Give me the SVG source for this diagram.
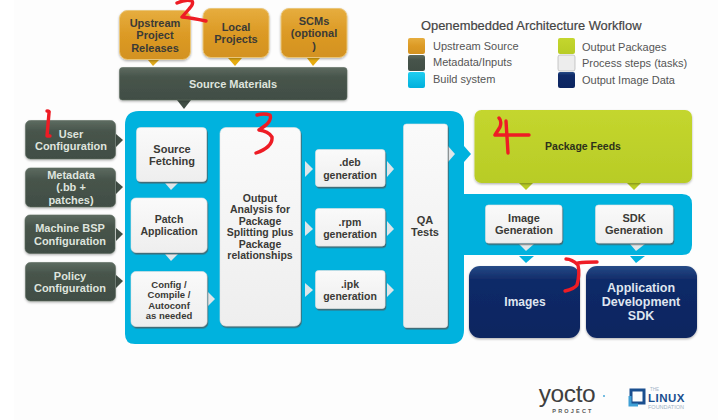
<svg xmlns="http://www.w3.org/2000/svg" width="718" height="420" viewBox="0 0 718 420">
<style>
text{font-family:"Liberation Sans",Arial,sans-serif;text-anchor:middle;font-weight:700}
.s{font-size:11px;fill:#3a3a36}
.m{font-size:11px;fill:#dfe4de}
.w{font-size:10.5px;fill:#3a3a36}
.c{font-size:9.500px;fill:#3a3a36}
.g{font-size:11px;fill:#3a3a36}
.l{font-size:11px;fill:#555;font-weight:400;text-anchor:start}
.a-o{fill:url(#org);stroke:#e9c67a;stroke-width:1}
.a-d{fill:url(#drk);stroke:#5d6b60;stroke-width:.6}
.a-w{fill:url(#wht);stroke:#e2e2e2;stroke-width:.6}
.a-g{fill:url(#grn)}
.a-n{fill:url(#nav)}
.r{fill:none;stroke:#ee1c25;stroke-width:3.4;stroke-linecap:round;stroke-linejoin:round}
.t{fill:#dfe6e9}
</style>
<defs>
<linearGradient id="org" x1="0" y1="0" x2="0" y2="1"><stop offset="0" stop-color="#e6ad3e"/><stop offset=".5" stop-color="#dc9a25"/><stop offset="1" stop-color="#d39220"/></linearGradient>
<linearGradient id="drk" x1="0" y1="0" x2="0" y2="1"><stop offset="0" stop-color="#5d6b60"/><stop offset=".3" stop-color="#47544b"/><stop offset="1" stop-color="#414e45"/></linearGradient>
<linearGradient id="wht" x1="0" y1="0" x2="0" y2="1"><stop offset="0" stop-color="#fafafa"/><stop offset="1" stop-color="#eeeeee"/></linearGradient>
<linearGradient id="grn" x1="0" y1="0" x2="0" y2="1"><stop offset="0" stop-color="#c4d62e"/><stop offset="1" stop-color="#b8cc26"/></linearGradient>
<linearGradient id="nav" x1="0" y1="0" x2="0" y2="1"><stop offset="0" stop-color="#264a86"/><stop offset=".2" stop-color="#0f2a68"/><stop offset="1" stop-color="#0c2560"/></linearGradient>
<linearGradient id="cy" x1="0" y1="0" x2="0" y2="1"><stop offset="0" stop-color="#1fcdf0"/><stop offset="1" stop-color="#00b0dc"/></linearGradient>
<filter id="sh" x="-10%" y="-10%" width="120%" height="125%"><feDropShadow dx="0" dy="1.2" stdDeviation="1.2" flood-color="#000" flood-opacity=".3"/></filter>
<filter id="ed" x="-10%" y="-10%" width="120%" height="120%"><feDropShadow dx=".9" dy="1.6" stdDeviation=".5" flood-color="#555" flood-opacity=".8"/></filter>
</defs>
<rect width="718" height="420" fill="#fff"/>
<rect x="14" y="0" width="704" height="420" fill="#fdfdfd"/>
<g id="build-system"><path d="M139 111H450Q464 111 464 125V194H682Q692 194 692 204V245Q692 255 682 255H464V330Q464 344 450 344H135Q125 344 125 334V125Q125 111 139 111Z" fill="#00b2de"/></g>
<g id="connectors">
<polygon points="148,60 159,60 153,66" fill="#e0aa1c"/>
<polygon points="228,58 242,58 235,66" fill="#e6ac10"/>
<polygon points="307,58 320,58 313,66" fill="#e6ac10"/>
<polygon points="177,100 191,100 184,109" fill="#414e45"/>
<polygon points="116,134 123,140 116,147" fill="#414e45"/>
<polygon points="116,181 123,187 116,194" fill="#414e45"/>
<polygon points="116,228 123,234 116,241" fill="#414e45"/>
<polygon points="116,275 123,281 116,288" fill="#414e45"/>
<polygon class="t" points="165,183 178,183 171,190"/>
<polygon class="t" points="165,254 178,254 171,261"/>
<polygon class="t" points="208,292 215,299 208,306"/>
<polygon class="t" points="305,161 313,169 305,177"/>
<polygon class="t" points="305,221 313,229 305,236"/>
<polygon class="t" points="305,283 313,290 305,297"/>
<polygon class="t" points="387,161 394,169 387,177"/>
<polygon class="t" points="387,221 394,229 387,236"/>
<polygon class="t" points="387,283 394,290 387,297"/>
<polygon class="t" points="448,146 455,154 448,162"/>
<polygon class="t" points="519,244 534,244 526,251"/>
<polygon class="t" points="630,244 645,244 636,251"/>
<polygon points="464,146 471,154 464,162" fill="#00b2de"/>
<polygon points="519,183 533,183 526,190" fill="#b8cc26"/>
<polygon points="627,183 641,183 634,190" fill="#b8cc26"/>
<polygon points="519,256 534,256 526,263" fill="#00b2de"/>
<polygon points="630,256 645,256 636,263" fill="#00b2de"/>
</g>
<g id="upstream"><rect class="a-o" x="119.500" y="10.500" width="71" height="49" rx="8" filter="url(#sh)"/><text class="s" x="155" y="27">Upstream</text><text class="s" x="155" y="39">Project</text><text class="s" x="155" y="52">Releases</text></g>
<g id="local"><rect class="a-o" x="203" y="8.500" width="66" height="49" rx="8" filter="url(#sh)"/><text class="s" x="236" y="31">Local</text><text class="s" x="236" y="43">Projects</text></g>
<g id="scms"><rect class="a-o" x="281" y="8.500" width="66" height="49" rx="8" filter="url(#sh)"/><text class="s" x="314" y="25">SCMs</text><text class="s" x="314" y="37">(optional</text><text class="s" x="314" y="50">)</text></g>
<g id="source-materials"><rect class="a-d" x="119.500" y="67.500" width="227.500" height="32.500" rx="3" filter="url(#sh)"/><text class="m" x="233" y="88">Source Materials</text></g>
<g id="user-config"><rect class="a-d" x="25.500" y="120.500" width="90" height="38.500" rx="5" filter="url(#sh)"/><text class="m" x="71" y="138">User</text><text class="m" x="71" y="150">Configuration</text></g>
<g id="metadata"><rect class="a-d" x="25.500" y="168" width="90" height="39" rx="5" filter="url(#sh)"/><text class="m" x="71" y="179">Metadata</text><text class="m" x="71" y="191">(.bb +</text><text class="m" x="71" y="204">patches)</text></g>
<g id="machine"><rect class="a-d" x="25" y="215" width="90" height="38.500" rx="5" filter="url(#sh)"/><text class="m" x="70" y="232">Machine BSP</text><text class="m" x="70" y="245">Configuration</text></g>
<g id="policy"><rect class="a-d" x="25.500" y="262.500" width="90" height="38.500" rx="5" filter="url(#sh)"/><text class="m" x="70" y="280">Policy</text><text class="m" x="70" y="292">Configuration</text></g>
<g id="source-fetching"><rect class="a-w" x="136.500" y="127.500" width="70" height="54" rx="4" filter="url(#ed)"/><text class="s" x="172" y="153">Source</text><text class="s" x="172" y="165">Fetching</text></g>
<g id="patch"><rect class="a-w" x="131" y="198" width="76" height="54.500" rx="5" filter="url(#ed)"/><text class="w" x="169" y="223">Patch</text><text class="w" x="169" y="235">Application</text></g>
<g id="config"><rect class="a-w" x="131" y="271.500" width="76" height="55" rx="5" filter="url(#ed)"/><text class="c" x="169" y="288">Config /</text><text class="c" x="169" y="298">Compile /</text><text class="c" x="169" y="308.500">Autoconf</text><text class="c" x="169" y="318.500">as needed</text></g>
<g id="output-analysis"><rect class="a-w" x="220" y="127.500" width="80.500" height="198.500" rx="6" filter="url(#ed)"/><text class="w" x="260" y="202">Output</text><text class="w" x="260" y="213">Analysis for</text><text class="w" x="260" y="225">Package</text><text class="w" x="260" y="236">Splitting plus</text><text class="w" x="260" y="248">Package</text><text class="w" x="260" y="259">relationships</text></g>
<g id="deb"><rect class="a-w" x="315.500" y="149.500" width="69.500" height="37" rx="3" filter="url(#ed)"/><text class="w" x="350" y="166">.deb</text><text class="w" x="350" y="179">generation</text></g>
<g id="rpm"><rect class="a-w" x="315.500" y="208.500" width="69.500" height="37.500" rx="3" filter="url(#ed)"/><text class="w" x="350" y="226">.rpm</text><text class="w" x="350" y="238">generation</text></g>
<g id="ipk"><rect class="a-w" x="315.500" y="270.500" width="69.500" height="38" rx="3" filter="url(#ed)"/><text class="w" x="350" y="288">.ipk</text><text class="w" x="350" y="300">generation</text></g>
<g id="qa"><rect class="a-w" x="403.500" y="124" width="44" height="203.500" rx="3" filter="url(#ed)"/><text class="s" x="425" y="224">QA</text><text class="s" x="425" y="236">Tests</text></g>
<g id="package-feeds"><rect class="a-g" x="474.500" y="110" width="217.500" height="73" rx="7" filter="url(#sh)"/><text x="583" y="150" style="font-size:10.500px;fill:#2d321a">Package Feeds</text></g>
<g id="image-gen"><rect class="a-w" x="485.500" y="205" width="76.500" height="38" rx="3" filter="url(#ed)"/><text class="g" x="524" y="222">Image</text><text class="g" x="524" y="234">Generation</text></g>
<g id="sdk-gen"><rect class="a-w" x="595.500" y="205" width="77.500" height="38" rx="3" filter="url(#ed)"/><text class="g" x="634" y="222">SDK</text><text class="g" x="634" y="234">Generation</text></g>
<g id="images"><rect class="a-n" x="469" y="266" width="111" height="72" rx="11" filter="url(#sh)"/><text x="525" y="306" style="font-size:12px;fill:#dfe5ef">Images</text></g>
<g id="app-sdk"><rect class="a-n" x="586" y="266" width="111" height="72" rx="11" filter="url(#sh)"/><text x="641" y="292" style="font-size:12.500px;fill:#dfe5ef">Application</text><text x="641" y="306" style="font-size:12.500px;fill:#dfe5ef">Development</text><text x="641" y="320" style="font-size:12.500px;fill:#dfe5ef">SDK</text></g>
<g id="legend">
<text x="421" y="30" style="font-size:12.900px;fill:#444;font-weight:400;text-anchor:start;stroke:#444;stroke-width:.2">Openembedded Architecture Workflow</text>
<rect x="408" y="38" width="17" height="16" rx="2" fill="url(#org)"/>
<rect x="408" y="55" width="17" height="16" rx="2" fill="url(#drk)"/>
<rect x="408" y="72" width="17" height="16" rx="2" fill="url(#cy)"/>
<rect x="558" y="38" width="17" height="16" rx="2" fill="url(#grn)"/>
<rect x="558" y="55" width="17" height="16" rx="2" fill="#ededed" stroke="#aaa" stroke-width=".6"/>
<rect x="558" y="72" width="17" height="16" rx="2" fill="url(#nav)"/>
<text class="l" x="433" y="50">Upstream Source</text>
<text class="l" x="433" y="66">Metadata/Inputs</text>
<text class="l" x="433" y="83">Build system</text>
<text class="l" x="582" y="51">Output Packages</text>
<text class="l" x="582" y="67">Process steps (tasks)</text>
<text class="l" x="582" y="84">Output Image Data</text>
</g>
<g id="logos">
<text x="567" y="401.500" style="font-size:24.500px;font-weight:400;fill:#3f3f3f;letter-spacing:-.4px">yocto</text>
<text x="573" y="413" style="font-size:5.500px;fill:#555;letter-spacing:2.200px">PROJECT</text>
<circle cx="604" cy="396" r="1" fill="#4aa8d8"/>
<path d="M631 390H644V403H631Z" fill="none" stroke="#1a4f8f" stroke-width="3"/>
<path d="M630 396V405H638" fill="none" stroke="#3fa0d6" stroke-width="3"/>
<text x="650" y="390.500" style="font-size:4.500px;fill:#9fb3c6;text-anchor:start;font-weight:400">THE</text>
<text x="648" y="402" style="font-size:11.500px;fill:#1a4f8f;text-anchor:start;letter-spacing:.5px">LINUX</text>
<text x="648" y="409" style="font-size:5.500px;fill:#9fb3c6;text-anchor:start;font-weight:400">FOUNDATION</text>
</g>
<g id="annotations">
<path class="r" d="M47 111Q50 111 49 113L47 136Q48 136 50 136"/>
<path class="r" d="M177 3Q186 -1 192 1Q194 4 189 9L182 17Q192 18 206 21"/>
<path class="r" d="M257 115Q264 113 270 115Q272 119 266 125L259 130Q268 131 272 137Q273 147 256 153"/>
<path class="r" d="M499 118Q502 121 500 127L495 135H529M506 121L508 153"/>
<path class="r" d="M566 259Q572 259 578 265Q580 274 577 285Q574 289 565 291M578 263Q585 262 597 262"/>
</g>
</svg>
